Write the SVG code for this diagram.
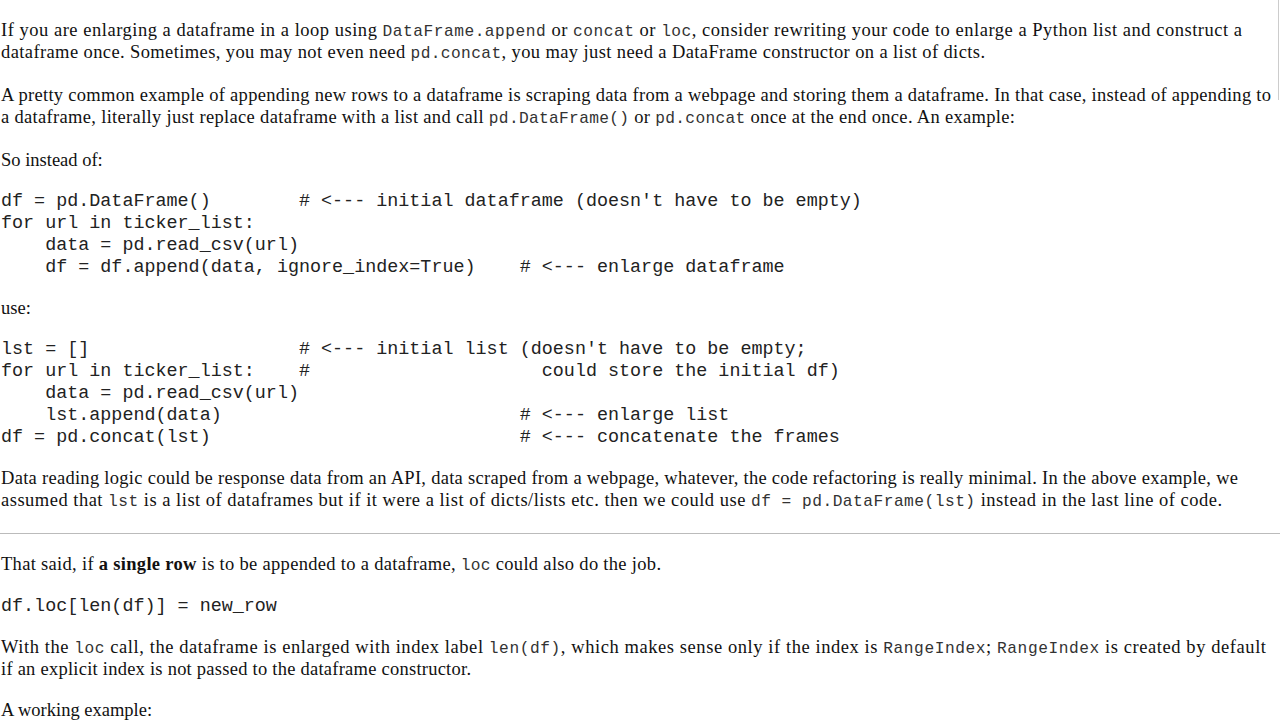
<svg xmlns="http://www.w3.org/2000/svg" width="1280" height="720" viewBox="0 0 1280 720">
<style>
.t{font-family:"Liberation Serif",serif;font-size:18.5px;fill:#111}
.m{font-family:"Liberation Mono",monospace;font-size:16.2px;fill:#333}
.c{font-family:"Liberation Mono",monospace;font-size:18.4px;fill:#222;white-space:pre}
</style>
<rect width="1280" height="720" fill="#fff"/>
<line x1="1278.5" y1="0" x2="1278.5" y2="100" stroke="#ccc"/>
<line x1="0" y1="533.5" x2="1280" y2="533.5" stroke="#bbb"/>
<text class="t" x="1" y="36" textLength="1241" lengthAdjust="spacing">If you are enlarging a dataframe in a loop using <tspan class="m">DataFrame.append</tspan> or <tspan class="m">concat</tspan> or <tspan class="m">loc</tspan>, consider rewriting your code to enlarge a Python list and construct a</text>
<text class="t" x="1" y="58" textLength="984" lengthAdjust="spacing">dataframe once. Sometimes, you may not even need <tspan class="m">pd.concat</tspan>, you may just need a DataFrame constructor on a list of dicts.</text>
<text class="t" x="1" y="101" textLength="1270" lengthAdjust="spacing">A pretty common example of appending new rows to a dataframe is scraping data from a webpage and storing them a dataframe. In that case, instead of appending to</text>
<text class="t" x="1" y="123" textLength="1014" lengthAdjust="spacing">a dataframe, literally just replace dataframe with a list and call <tspan class="m">pd.DataFrame()</tspan> or <tspan class="m">pd.concat</tspan> once at the end once. An example:</text>
<text class="t" x="1" y="166">So instead of:</text>
<text class="c" x="1" y="206" xml:space="preserve">df = pd.DataFrame()        # &lt;--- initial dataframe (doesn't have to be empty)</text>
<text class="c" x="1" y="228" xml:space="preserve">for url in ticker_list:</text>
<text class="c" x="1" y="250" xml:space="preserve">    data = pd.read_csv(url)</text>
<text class="c" x="1" y="272" xml:space="preserve">    df = df.append(data, ignore_index=True)    # &lt;--- enlarge dataframe</text>
<text class="t" x="1" y="314">use:</text>
<text class="c" x="1" y="354" xml:space="preserve">lst = []                   # &lt;--- initial list (doesn't have to be empty;</text>
<text class="c" x="1" y="376" xml:space="preserve">for url in ticker_list:    #                     could store the initial df)</text>
<text class="c" x="1" y="398" xml:space="preserve">    data = pd.read_csv(url)</text>
<text class="c" x="1" y="420" xml:space="preserve">    lst.append(data)                           # &lt;--- enlarge list</text>
<text class="c" x="1" y="442" xml:space="preserve">df = pd.concat(lst)                            # &lt;--- concatenate the frames</text>
<text class="t" x="1" y="484" textLength="1237" lengthAdjust="spacing">Data reading logic could be response data from an API, data scraped from a webpage, whatever, the code refactoring is really minimal. In the above example, we</text>
<text class="t" x="1" y="506" textLength="1221" lengthAdjust="spacing">assumed that <tspan class="m">lst</tspan> is a list of dataframes but if it were a list of dicts/lists etc. then we could use <tspan class="m" xml:space="preserve">df = pd.DataFrame(lst)</tspan> instead in the last line of code.</text>
<text class="t" x="1" y="570" textLength="660" lengthAdjust="spacing">That said, if <tspan font-weight="bold">a single row</tspan> is to be appended to a dataframe, <tspan class="m">loc</tspan> could also do the job.</text>
<text class="c" x="1" y="611" xml:space="preserve">df.loc[len(df)] = new_row</text>
<text class="t" x="1" y="653" textLength="1265" lengthAdjust="spacing">With the <tspan class="m">loc</tspan> call, the dataframe is enlarged with index label <tspan class="m">len(df)</tspan>, which makes sense only if the index is <tspan class="m">RangeIndex</tspan>; <tspan class="m">RangeIndex</tspan> is created by default</text>
<text class="t" x="1" y="675" textLength="470" lengthAdjust="spacing">if an explicit index is not passed to the dataframe constructor.</text>
<text class="t" x="1" y="716">A working example:</text>
</svg>
